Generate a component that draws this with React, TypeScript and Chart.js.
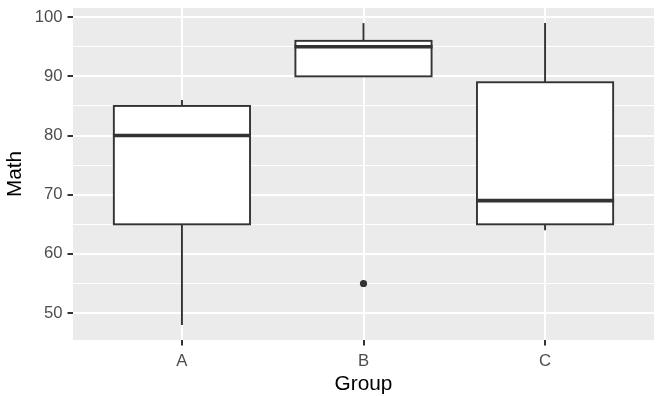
import React, { useEffect, useRef } from 'react';
import { Chart, registerables } from 'chart.js';

Chart.register(...registerables);

const groups = ['A', 'B', 'C'];
const lowerWhisker = [48, 90, 64];
const q1 = [65, 90, 65];
const medians = [80, 95, 69];
const q3 = [85, 96, 89];
const upperWhisker = [86, 99, 99];
const outlierGroups = ['B'];
const outlierValues = [55];
const yTicks = [50, 55, 60, 65, 70, 75, 80, 85, 90, 95, 100];
const yMin = 45.45;
const yMax = 101.55;

const INK = '#333333';
const FONT = "'Liberation Sans', Arial, sans-serif";

const boxPlugin = {
  id: 'boxExtras',
  beforeDraw(chart: any) {
    const { ctx, chartArea } = chart;
    ctx.save();
    ctx.fillStyle = '#FFFFFF';
    ctx.fillRect(0, 0, chart.width, chart.height);
    ctx.fillStyle = '#EBEBEB';
    ctx.fillRect(chartArea.left, chartArea.top, chartArea.right - chartArea.left, chartArea.bottom - chartArea.top);
    ctx.restore();
  },
  beforeDatasetsDraw(chart: any) {
    const { ctx } = chart;
    const xs = chart.scales.x;
    const ys = chart.scales.y;
    ctx.save();
    ctx.strokeStyle = INK;
    ctx.lineWidth = 1.9;
    groups.forEach((g, i) => {
      const x = xs.getPixelForValue(i + 1);
      ctx.beginPath();
      ctx.moveTo(x, ys.getPixelForValue(q3[i]));
      ctx.lineTo(x, ys.getPixelForValue(upperWhisker[i]));
      ctx.moveTo(x, ys.getPixelForValue(q1[i]));
      ctx.lineTo(x, ys.getPixelForValue(lowerWhisker[i]));
      ctx.stroke();
    });
    ctx.restore();
  },
  afterDatasetsDraw(chart: any) {
    const { ctx } = chart;
    const ys = chart.scales.y;
    const meta = chart.getDatasetMeta(0);
    ctx.save();
    ctx.strokeStyle = INK;
    groups.forEach((g, i) => {
      const el = meta.data[i];
      const { x, width } = el.getProps(['x', 'width'], true);
      const l = x - width / 2;
      const r = x + width / 2;
      const top = ys.getPixelForValue(q3[i]);
      const bot = ys.getPixelForValue(q1[i]);
      ctx.lineWidth = 1.9;
      ctx.strokeRect(l, top, r - l, bot - top);
      const m = ys.getPixelForValue(medians[i]);
      ctx.lineWidth = 3.6;
      ctx.beginPath();
      ctx.moveTo(l - 0.95, m);
      ctx.lineTo(r + 0.95, m);
      ctx.stroke();
    });
    ctx.restore();
  },
};

export default function App() {
  const ref = useRef<HTMLCanvasElement>(null);

  useEffect(() => {
    if (!ref.current) return;
    const chart = new Chart(ref.current, {
      type: 'bar',
      data: {
        datasets: [
          {
            type: 'bar',
            data: groups.map((g, i) => ({ x: i + 1, y: [q1[i], q3[i]] })) as any,
            backgroundColor: '#FFFFFF',
            borderWidth: 0,
            barPercentage: 0.75,
            categoryPercentage: 1,
          },
          {
            type: 'scatter',
            data: outlierGroups.map((g, i) => ({ x: groups.indexOf(g) + 1, y: outlierValues[i] })),
            backgroundColor: INK,
            borderWidth: 0,
            pointRadius: 3.6,
          } as any,
        ],
      },
      options: {
        animation: false,
        responsive: false,
        devicePixelRatio: 1,
        layout: { padding: { left: 0, top: 8, right: 4, bottom: 0 } },
        plugins: { legend: { display: false }, tooltip: { enabled: false } },
        scales: {
          x: {
            type: 'linear',
            min: 0.4,
            max: 3.6,
            offset: false,
            afterBuildTicks: (s: any) => {
              s.ticks = groups.map((g, i) => ({ value: i + 1 }));
            },
            afterFit: (s: any) => {
              s.height = 56;
              s.paddingLeft = 0;
              s.paddingRight = 0;
            },
            grid: {
              offset: false,
              color: '#FFFFFF',
              lineWidth: 2,
              tickColor: INK,
              tickLength: 5.5,
              tickWidth: 2,
            },
            border: { display: false },
            ticks: {
              autoSkip: false,
              maxRotation: 0,
              padding: 5.5,
              color: '#4D4D4D',
              font: { family: FONT, size: 16.7 },
              callback: (v: any) => groups[Math.round(Number(v)) - 1] ?? '',
            },
            title: {
              display: true,
              text: 'Group',
              color: '#000000',
              font: { family: FONT, size: 20.8, lineHeight: 1.1 },
              padding: { top: 0, bottom: 0 },
            },
          } as any,
          y: {
            type: 'linear',
            min: yMin,
            max: yMax,
            afterBuildTicks: (s: any) => {
              s.ticks = yTicks.map((v) => ({ value: v }));
            },
            afterFit: (s: any) => {
              s.width = 73;
              s.paddingTop = 0;
              s.paddingBottom = 0;
            },
            grid: {
              color: '#FFFFFF',
              lineWidth: (c: any) => (c.tick && c.tick.value % 10 === 0 ? 2 : 1),
              tickColor: (c: any) => (c.tick && c.tick.value % 10 === 0 ? INK : 'rgba(0,0,0,0)'),
              tickLength: 5.5,
              tickWidth: 2,
            },
            border: { display: false },
            ticks: {
              autoSkip: false,
              padding: 5,
              color: '#4D4D4D',
              font: { family: FONT, size: 16.7 },
              callback: (v: any) => (Number(v) % 10 === 0 ? String(v) : ''),
            },
            title: {
              display: true,
              text: 'Math',
              color: '#000000',
              font: { family: FONT, size: 20.8, lineHeight: 1.2 },
              padding: { top: 3, bottom: 0 },
            },
          } as any,
        },
      },
      plugins: [boxPlugin],
    });
    return () => chart.destroy();
  }, []);

  return (
    <div style={{ position: 'absolute', left: 0, top: 0, width: 658, height: 396, background: '#FFFFFF' }}>
      <canvas ref={ref} width={658} height={396} style={{ display: 'block' }} />
    </div>
  );
}
